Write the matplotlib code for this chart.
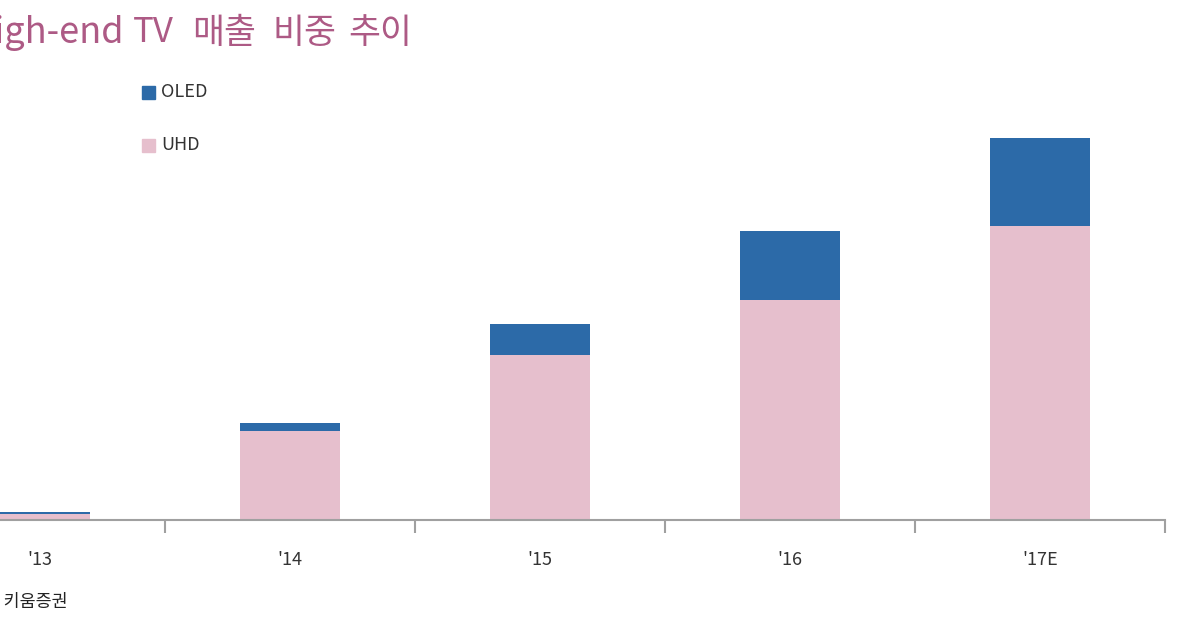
import matplotlib.pyplot as plt
import numpy as np

plt.rcParams['font.family'] = ['Noto Sans CJK KR', 'DejaVu Sans']

years = ["'13", "'14", "'15", "'16", "'17E"]
uhd = [0.6, 8.9, 16.5, 22.0, 29.4]
oled = [0.2, 0.8, 3.1, 6.9, 8.8]

uhd_color = '#e6bfcd'
oled_color = '#2c6aa8'
title_color = '#ad5a85'

fig = plt.figure(figsize=(12, 6.3), dpi=100)
# chart is cropped on the left side, so the axes start off-canvas
ax = fig.add_axes([-85 / 1200, 110 / 630, 1250 / 1200, 400 / 630])

x = np.arange(len(years))
ax.bar(x, uhd, width=0.4, color=uhd_color, label='UHD')
ax.bar(x, oled, width=0.4, bottom=uhd, color=oled_color, label='OLED')

ax.set_xlim(-0.5, len(years) - 0.5)
ax.set_ylim(0, 40)

for s in ['top', 'right', 'left']:
    ax.spines[s].set_visible(False)
ax.spines['bottom'].set_color('#a0a0a0')
ax.spines['bottom'].set_linewidth(1.5)
ax.set_yticks([])

ax.set_xticks(x)
ax.set_xticklabels(years, fontsize=13, color='#333333')
ax.tick_params(axis='x', which='major', length=0, pad=22)
ax.set_xticks(np.arange(0.5, len(years), 1.0), minor=True)
ax.tick_params(axis='x', which='minor', length=9, width=1.5, color='#a0a0a0')

# title and source are cropped at the left edge, as in the original
ty = 1 - 33 / 630
fig.text(124 / 1200, ty, 'High-end', fontsize=26, color=title_color,
         ha='right', va='center', fontweight='light')
for word, px in [('TV', 133), ('매출', 192), ('비중', 272), ('추이', 348)]:
    fig.text(px / 1200, ty, word, fontsize=25, color=title_color,
             ha='left', va='center', fontweight='light')
fig.text(68 / 1200, 1 - 602 / 630, '자료: 키움증권', fontsize=12.5,
         color='#222222', ha='right', va='center')

# legend drawn as squares with labels
fig.patches.append(plt.Rectangle((142 / 1200, 1 - 99 / 630), 13 / 1200, 13 / 630,
                                 transform=fig.transFigure, color=oled_color))
fig.patches.append(plt.Rectangle((142 / 1200, 1 - 152 / 630), 13 / 1200, 13 / 630,
                                 transform=fig.transFigure, color=uhd_color))
fig.text(161 / 1200, 1 - 92 / 630, 'OLED', fontsize=13, color='#333333', va='center')
fig.text(161 / 1200, 1 - 145 / 630, 'UHD', fontsize=13, color='#333333', va='center')

fig.savefig('out.png', dpi=100)
